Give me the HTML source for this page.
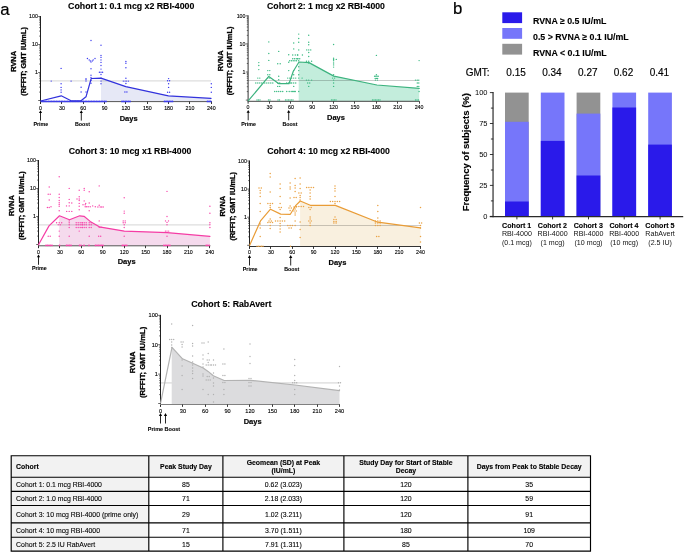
<!DOCTYPE html>
<html lang="en"><head><meta charset="utf-8"><title>Figure</title>
<style>html,body{margin:0;padding:0;background:#fff}svg{display:block}text{font-family:'Liberation Sans', Arial, Helvetica, sans-serif}</style></head><body>
<svg width="685" height="553" viewBox="0 0 685 553">
<rect width="685" height="553" fill="#fff"/>
<text x="0.3" y="15" font-size="16.8" text-anchor="start" fill="#000" stroke="#000" stroke-width="0.2">a</text>
<text x="452.9" y="14" font-size="16.8" text-anchor="start" fill="#000" stroke="#000" stroke-width="0.2">b</text>
<text x="131.2" y="9.0" font-size="8.78" text-anchor="middle" font-weight="bold" fill="#000" stroke="#000" stroke-width="0.12">Cohort 1: 0.1 mcg x2 RBI-4000</text>
<path d="M101.0,78.1 L125.8,86.6 L168.4,95.8 L211.0,98.4 L211.0,101.6 L101.0,101.6 Z" fill="#e6e8f6"/>
<line x1="40.5" y1="80.9" x2="211.0" y2="80.9" stroke="#000" stroke-opacity="0.135" stroke-width="1.4"/>
<line x1="40.5" y1="16.0" x2="40.5" y2="104.0" stroke="#222" stroke-width="1"/>
<line x1="40.0" y1="101.6" x2="211.8" y2="101.6" stroke="#555" stroke-width="1"/>
<path d="M38.2,100.5H40.5M39.2,92.1H40.5M39.2,87.1H40.5M39.2,83.6H40.5M39.2,80.9H40.5M39.2,78.7H40.5M39.2,76.8H40.5M39.2,75.2H40.5M39.2,73.8H40.5M38.2,72.5H40.5M39.2,64.1H40.5M39.2,59.1H40.5M39.2,55.6H40.5M39.2,52.9H40.5M39.2,50.7H40.5M39.2,48.8H40.5M39.2,47.2H40.5M39.2,45.8H40.5M38.2,44.5H40.5M39.2,36.1H40.5M39.2,31.1H40.5M39.2,27.6H40.5M39.2,24.9H40.5M39.2,22.7H40.5M39.2,20.8H40.5M39.2,19.2H40.5M39.2,17.8H40.5M38.2,16.5H40.5" stroke="#222" stroke-width="0.7" fill="none"/>
<text x="37.9" y="18.4" font-size="5.3" text-anchor="end" fill="#000" stroke="#000" stroke-width="0.12">100</text>
<text x="37.9" y="46.4" font-size="5.3" text-anchor="end" fill="#000" stroke="#000" stroke-width="0.12">10</text>
<text x="37.9" y="74.4" font-size="5.3" text-anchor="end" fill="#000" stroke="#000" stroke-width="0.12">1</text>
<text x="40.5" y="109.5" font-size="5.3" text-anchor="middle" fill="#000" stroke="#000" stroke-width="0.12">0</text>
<text x="61.9" y="109.5" font-size="5.3" text-anchor="middle" fill="#000" stroke="#000" stroke-width="0.12">30</text>
<text x="83.2" y="109.5" font-size="5.3" text-anchor="middle" fill="#000" stroke="#000" stroke-width="0.12">60</text>
<text x="104.6" y="109.5" font-size="5.3" text-anchor="middle" fill="#000" stroke="#000" stroke-width="0.12">90</text>
<text x="125.9" y="109.5" font-size="5.3" text-anchor="middle" fill="#000" stroke="#000" stroke-width="0.12">120</text>
<text x="147.3" y="109.5" font-size="5.3" text-anchor="middle" fill="#000" stroke="#000" stroke-width="0.12">150</text>
<text x="168.6" y="109.5" font-size="5.3" text-anchor="middle" fill="#000" stroke="#000" stroke-width="0.12">180</text>
<text x="190.0" y="109.5" font-size="5.3" text-anchor="middle" fill="#000" stroke="#000" stroke-width="0.12">210</text>
<text x="211.3" y="109.5" font-size="5.3" text-anchor="middle" fill="#000" stroke="#000" stroke-width="0.12">240</text>
<path d="M61.5,101.6v2.4M83.5,101.6v2.4M104.5,101.6v2.4M125.5,101.6v2.4M147.5,101.6v2.4M168.5,101.6v2.4M189.5,101.6v2.4M211.5,101.6v2.4" stroke="#222" stroke-width="0.9" fill="none"/>
<g fill="#3c3cf0"><circle cx="42.0" cy="101.4" r="0.95"/><circle cx="43.6" cy="101.4" r="0.95"/><circle cx="45.2" cy="101.4" r="0.95"/><circle cx="46.8" cy="101.4" r="0.95"/><circle cx="48.4" cy="101.4" r="0.95"/><circle cx="50.0" cy="101.4" r="0.95"/><circle cx="51.6" cy="101.4" r="0.95"/><circle cx="53.2" cy="101.4" r="0.95"/><circle cx="54.8" cy="101.4" r="0.95"/><circle cx="56.4" cy="101.4" r="0.95"/><circle cx="58.0" cy="101.4" r="0.95"/><circle cx="59.6" cy="101.4" r="0.95"/><circle cx="61.2" cy="101.4" r="0.95"/><circle cx="62.8" cy="101.4" r="0.95"/><circle cx="64.4" cy="101.4" r="0.95"/><circle cx="66.0" cy="101.4" r="0.95"/><circle cx="67.6" cy="101.4" r="0.95"/><circle cx="69.2" cy="101.4" r="0.95"/><circle cx="70.8" cy="101.4" r="0.95"/><circle cx="72.4" cy="101.4" r="0.95"/><circle cx="74.0" cy="101.4" r="0.95"/><circle cx="75.6" cy="101.4" r="0.95"/><circle cx="77.2" cy="101.4" r="0.95"/><circle cx="78.8" cy="101.4" r="0.95"/><circle cx="80.4" cy="101.4" r="0.95"/><circle cx="82.0" cy="101.4" r="0.95"/><circle cx="83.6" cy="101.4" r="0.95"/><circle cx="85.2" cy="101.4" r="0.95"/><circle cx="86.8" cy="101.4" r="0.95"/><circle cx="88.4" cy="101.4" r="0.95"/><circle cx="90.0" cy="101.4" r="0.95"/><circle cx="91.6" cy="101.4" r="0.95"/><circle cx="93.2" cy="101.4" r="0.95"/><circle cx="94.8" cy="101.4" r="0.95"/><circle cx="96.4" cy="101.4" r="0.95"/><circle cx="98.0" cy="101.4" r="0.95"/><circle cx="99.6" cy="101.4" r="0.95"/><circle cx="101.2" cy="101.4" r="0.95"/><circle cx="102.8" cy="101.4" r="0.95"/><circle cx="104.4" cy="101.4" r="0.95"/><circle cx="106.0" cy="101.4" r="0.95"/><circle cx="122.0" cy="101.4" r="0.95"/><circle cx="123.6" cy="101.4" r="0.95"/><circle cx="125.2" cy="101.4" r="0.95"/><circle cx="126.8" cy="101.4" r="0.95"/><circle cx="128.4" cy="101.4" r="0.95"/><circle cx="130.0" cy="101.4" r="0.95"/><circle cx="164.5" cy="101.4" r="0.95"/><circle cx="166.1" cy="101.4" r="0.95"/><circle cx="167.7" cy="101.4" r="0.95"/><circle cx="169.3" cy="101.4" r="0.95"/><circle cx="170.9" cy="101.4" r="0.95"/><circle cx="172.5" cy="101.4" r="0.95"/><circle cx="207.5" cy="101.4" r="0.95"/><circle cx="209.1" cy="101.4" r="0.95"/><circle cx="210.7" cy="101.4" r="0.95"/></g>
<g fill="#3c3cf0"><circle cx="51.2" cy="81.1" r="0.7"/><circle cx="61.1" cy="68.4" r="0.7"/><circle cx="61.1" cy="83.7" r="0.7"/><circle cx="61.1" cy="87.4" r="0.7"/><circle cx="61.1" cy="89.9" r="0.7"/><circle cx="61.1" cy="92.3" r="0.7"/><circle cx="71.1" cy="81.1" r="0.7"/><circle cx="81.1" cy="87.2" r="0.7"/><circle cx="81.1" cy="92.0" r="0.7"/><circle cx="86.0" cy="78.6" r="0.7"/><circle cx="86.0" cy="79.7" r="0.7"/><circle cx="86.0" cy="81.1" r="0.7"/><circle cx="86.0" cy="92.0" r="0.7"/><circle cx="91.0" cy="40.5" r="0.7"/><circle cx="87.4" cy="58.5" r="0.7"/><circle cx="95.0" cy="58.5" r="0.7"/><circle cx="89.2" cy="59.9" r="0.7"/><circle cx="93.2" cy="59.9" r="0.7"/><circle cx="90.3" cy="61.0" r="0.7"/><circle cx="92.2" cy="61.0" r="0.7"/><circle cx="91.0" cy="62.1" r="0.7"/><circle cx="91.0" cy="68.7" r="0.7"/><circle cx="91.0" cy="75.3" r="0.7"/><circle cx="91.0" cy="77.4" r="0.7"/><circle cx="91.0" cy="80.4" r="0.7"/><circle cx="91.0" cy="83.3" r="0.7"/><circle cx="101.0" cy="45.3" r="0.7"/><circle cx="101.0" cy="55.5" r="0.7"/><circle cx="101.0" cy="57.4" r="0.7"/><circle cx="101.0" cy="59.9" r="0.7"/><circle cx="101.0" cy="62.4" r="0.7"/><circle cx="101.0" cy="65.5" r="0.7"/><circle cx="101.0" cy="69.1" r="0.7"/><circle cx="99.4" cy="72.3" r="0.7"/><circle cx="101.0" cy="72.3" r="0.7"/><circle cx="102.6" cy="72.3" r="0.7"/><circle cx="101.0" cy="74.5" r="0.7"/><circle cx="101.0" cy="78.2" r="0.7"/><circle cx="101.0" cy="81.1" r="0.7"/><circle cx="101.0" cy="83.7" r="0.7"/><circle cx="125.9" cy="61.4" r="0.7"/><circle cx="125.9" cy="63.3" r="0.7"/><circle cx="125.9" cy="67.7" r="0.7"/><circle cx="125.9" cy="78.2" r="0.7"/><circle cx="123.3" cy="81.1" r="0.7"/><circle cx="125.1" cy="81.1" r="0.7"/><circle cx="126.7" cy="81.1" r="0.7"/><circle cx="128.5" cy="81.1" r="0.7"/><circle cx="125.9" cy="83.5" r="0.7"/><circle cx="124.9" cy="92.0" r="0.7"/><circle cx="126.9" cy="92.0" r="0.7"/><circle cx="168.6" cy="78.6" r="0.7"/><circle cx="167.6" cy="80.8" r="0.7"/><circle cx="169.6" cy="80.8" r="0.7"/><circle cx="168.6" cy="83.7" r="0.7"/><circle cx="168.6" cy="87.4" r="0.7"/><circle cx="167.6" cy="92.3" r="0.7"/><circle cx="169.6" cy="92.3" r="0.7"/><circle cx="211.3" cy="83.7" r="0.7"/><circle cx="211.3" cy="87.4" r="0.7"/><circle cx="211.3" cy="92.3" r="0.7"/></g>
<polyline points="40.6,101.0 61.2,95.8 71.1,100.8 81.0,100.8 86.0,96.8 91.2,78.5 101.0,78.1 125.8,86.6 168.4,95.8 211.0,98.4" fill="none" stroke="#3232dc" stroke-width="1.2" stroke-linejoin="round" stroke-linecap="round"/>
<text x="16.2" y="61.4" font-size="7.4" text-anchor="middle" font-weight="bold" fill="#000" transform="rotate(-90 16.2 61.4)" stroke="#000" stroke-width="0.3">RVNA</text>
<text x="26.1" y="61.4" font-size="7.4" text-anchor="middle" font-weight="bold" fill="#000" transform="rotate(-90 26.1 61.4)" stroke="#000" stroke-width="0.3">(RFFIT; GMT IU/mL)</text>
<text x="128.6" y="120.60000000000001" font-size="7.5" text-anchor="middle" font-weight="bold" fill="#000" stroke="#000" stroke-width="0.15">Days</text>
<path d="M40.5,120.6V112.1" stroke="#000" stroke-width="0.85" fill="none"/><path d="M40.5,110.19999999999999l-1.6,2.9h3.2z" fill="#000"/>
<text x="40.8" y="126.2" font-size="5.3" text-anchor="middle" font-weight="bold" fill="#000" stroke="#000" stroke-width="0.08">Prime</text>
<path d="M81.3,120.6V112.1" stroke="#000" stroke-width="0.85" fill="none"/><path d="M81.3,110.19999999999999l-1.6,2.9h3.2z" fill="#000"/>
<text x="82.5" y="126.2" font-size="5.3" text-anchor="middle" font-weight="bold" fill="#000" stroke="#000" stroke-width="0.08">Boost</text>
<text x="326" y="9.0" font-size="8.7" text-anchor="middle" font-weight="bold" fill="#000" stroke="#000" stroke-width="0.12">Cohort 2: 1 mcg x2 RBI-4000</text>
<path d="M298.7,62.5 L299.0,62.0 L309.0,62.6 L333.8,76.1 L376.9,85.0 L419.2,88.4 L419.2,101.3 L298.7,101.3 Z" fill="#c3eddc"/>
<line x1="248.1" y1="80.5" x2="419.2" y2="80.5" stroke="#000" stroke-opacity="0.2" stroke-width="1"/>
<line x1="248.1" y1="15.3" x2="248.1" y2="103.7" stroke="#333" stroke-width="1"/>
<line x1="247.6" y1="101.3" x2="419.6" y2="101.3" stroke="#444" stroke-width="1"/>
<path d="M245.8,100.1H248.1M246.8,91.6H248.1M246.8,86.7H248.1M246.8,83.2H248.1M246.8,80.5H248.1M246.8,78.2H248.1M246.8,76.4H248.1M246.8,74.7H248.1M246.8,73.3H248.1M245.8,72.0H248.1M246.8,63.5H248.1M246.8,58.6H248.1M246.8,55.1H248.1M246.8,52.4H248.1M246.8,50.1H248.1M246.8,48.3H248.1M246.8,46.6H248.1M246.8,45.2H248.1M245.8,43.9H248.1M246.8,35.4H248.1M246.8,30.5H248.1M246.8,27.0H248.1M246.8,24.3H248.1M246.8,22.0H248.1M246.8,20.2H248.1M246.8,18.5H248.1M246.8,17.1H248.1M245.8,15.8H248.1" stroke="#333" stroke-width="0.7" fill="none"/>
<text x="245.5" y="17.7" font-size="5.3" text-anchor="end" fill="#000" stroke="#000" stroke-width="0.12">100</text>
<text x="245.5" y="45.8" font-size="5.3" text-anchor="end" fill="#000" stroke="#000" stroke-width="0.12">10</text>
<text x="245.5" y="73.9" font-size="5.3" text-anchor="end" fill="#000" stroke="#000" stroke-width="0.12">1</text>
<text x="248.1" y="109.2" font-size="5.3" text-anchor="middle" fill="#000" stroke="#000" stroke-width="0.12">0</text>
<text x="269.5" y="109.2" font-size="5.3" text-anchor="middle" fill="#000" stroke="#000" stroke-width="0.12">30</text>
<text x="290.9" y="109.2" font-size="5.3" text-anchor="middle" fill="#000" stroke="#000" stroke-width="0.12">60</text>
<text x="312.2" y="109.2" font-size="5.3" text-anchor="middle" fill="#000" stroke="#000" stroke-width="0.12">90</text>
<text x="333.6" y="109.2" font-size="5.3" text-anchor="middle" fill="#000" stroke="#000" stroke-width="0.12">120</text>
<text x="355.0" y="109.2" font-size="5.3" text-anchor="middle" fill="#000" stroke="#000" stroke-width="0.12">150</text>
<text x="376.4" y="109.2" font-size="5.3" text-anchor="middle" fill="#000" stroke="#000" stroke-width="0.12">180</text>
<text x="397.7" y="109.2" font-size="5.3" text-anchor="middle" fill="#000" stroke="#000" stroke-width="0.12">210</text>
<text x="419.1" y="109.2" font-size="5.3" text-anchor="middle" fill="#000" stroke="#000" stroke-width="0.12">240</text>
<path d="M269.5,101.3v2.4M290.5,101.3v2.4M312.5,101.3v2.4M333.5,101.3v2.4M354.5,101.3v2.4M376.5,101.3v2.4M397.5,101.3v2.4M419.5,101.3v2.4" stroke="#333" stroke-width="0.9" fill="none"/>
<g fill="#3dbb84"><circle cx="257.0" cy="100.0" r="0.7"/><circle cx="258.5" cy="100.0" r="0.7"/><circle cx="260.0" cy="100.0" r="0.7"/><circle cx="268.5" cy="100.0" r="0.7"/><circle cx="270.0" cy="100.0" r="0.7"/><circle cx="278.0" cy="100.0" r="0.7"/><circle cx="279.5" cy="100.0" r="0.7"/><circle cx="285.5" cy="100.0" r="0.7"/><circle cx="287.0" cy="100.0" r="0.7"/><circle cx="288.5" cy="100.0" r="0.7"/><circle cx="290.0" cy="100.0" r="0.7"/><circle cx="291.5" cy="100.0" r="0.7"/><circle cx="293.0" cy="100.0" r="0.7"/><circle cx="331.5" cy="100.0" r="0.7"/><circle cx="333.0" cy="100.0" r="0.7"/><circle cx="334.5" cy="100.0" r="0.7"/><circle cx="336.0" cy="100.0" r="0.7"/><circle cx="372.5" cy="100.0" r="0.7"/><circle cx="374.0" cy="100.0" r="0.7"/><circle cx="375.5" cy="100.0" r="0.7"/><circle cx="377.0" cy="100.0" r="0.7"/><circle cx="378.5" cy="100.0" r="0.7"/><circle cx="380.0" cy="100.0" r="0.7"/><circle cx="415.5" cy="100.0" r="0.7"/><circle cx="417.0" cy="100.0" r="0.7"/><circle cx="418.5" cy="100.0" r="0.7"/></g>
<g fill="#3dbb84"><circle cx="258.8" cy="62.6" r="0.72"/><circle cx="258.8" cy="65.5" r="0.72"/><circle cx="258.8" cy="69.6" r="0.72"/><circle cx="257.8" cy="78.1" r="0.72"/><circle cx="259.8" cy="78.1" r="0.72"/><circle cx="255.8" cy="83.0" r="0.72"/><circle cx="257.8" cy="83.0" r="0.72"/><circle cx="259.8" cy="83.0" r="0.72"/><circle cx="261.8" cy="83.0" r="0.72"/><circle cx="268.8" cy="41.9" r="0.72"/><circle cx="268.8" cy="53.5" r="0.72"/><circle cx="268.8" cy="60.4" r="0.72"/><circle cx="267.8" cy="70.6" r="0.72"/><circle cx="269.8" cy="70.6" r="0.72"/><circle cx="267.8" cy="74.7" r="0.72"/><circle cx="269.8" cy="74.7" r="0.72"/><circle cx="267.8" cy="78.1" r="0.72"/><circle cx="269.8" cy="78.1" r="0.72"/><circle cx="264.8" cy="83.0" r="0.72"/><circle cx="266.8" cy="83.0" r="0.72"/><circle cx="268.8" cy="83.0" r="0.72"/><circle cx="270.8" cy="83.0" r="0.72"/><circle cx="272.8" cy="83.0" r="0.72"/><circle cx="278.7" cy="51.4" r="0.72"/><circle cx="277.7" cy="63.8" r="0.72"/><circle cx="280.2" cy="63.8" r="0.72"/><circle cx="278.7" cy="76.2" r="0.72"/><circle cx="278.7" cy="79.8" r="0.72"/><circle cx="277.7" cy="83.0" r="0.72"/><circle cx="279.7" cy="83.0" r="0.72"/><circle cx="277.7" cy="86.4" r="0.72"/><circle cx="279.7" cy="86.4" r="0.72"/><circle cx="274.7" cy="91.5" r="0.72"/><circle cx="276.7" cy="91.5" r="0.72"/><circle cx="278.7" cy="91.5" r="0.72"/><circle cx="280.7" cy="91.5" r="0.72"/><circle cx="282.7" cy="91.5" r="0.72"/><circle cx="288.7" cy="54.7" r="0.72"/><circle cx="288.7" cy="62.3" r="0.72"/><circle cx="288.7" cy="70.6" r="0.72"/><circle cx="287.7" cy="78.1" r="0.72"/><circle cx="289.7" cy="78.1" r="0.72"/><circle cx="286.7" cy="83.0" r="0.72"/><circle cx="288.7" cy="83.0" r="0.72"/><circle cx="290.7" cy="83.0" r="0.72"/><circle cx="286.7" cy="91.5" r="0.72"/><circle cx="289.2" cy="91.5" r="0.72"/><circle cx="291.2" cy="91.5" r="0.72"/><circle cx="293.2" cy="91.5" r="0.72"/><circle cx="295.2" cy="91.5" r="0.72"/><circle cx="293.7" cy="43.0" r="0.72"/><circle cx="293.7" cy="48.9" r="0.72"/><circle cx="292.7" cy="55.0" r="0.72"/><circle cx="295.3" cy="55.0" r="0.72"/><circle cx="297.5" cy="55.0" r="0.72"/><circle cx="292.7" cy="58.7" r="0.72"/><circle cx="294.5" cy="58.7" r="0.72"/><circle cx="296.3" cy="58.7" r="0.72"/><circle cx="297.9" cy="58.7" r="0.72"/><circle cx="289.7" cy="60.8" r="0.72"/><circle cx="291.5" cy="60.8" r="0.72"/><circle cx="293.2" cy="60.8" r="0.72"/><circle cx="294.9" cy="60.8" r="0.72"/><circle cx="296.5" cy="60.8" r="0.72"/><circle cx="293.7" cy="70.6" r="0.72"/><circle cx="293.7" cy="74.7" r="0.72"/><circle cx="291.7" cy="78.1" r="0.72"/><circle cx="293.7" cy="78.1" r="0.72"/><circle cx="295.7" cy="78.1" r="0.72"/><circle cx="291.7" cy="83.0" r="0.72"/><circle cx="293.7" cy="83.0" r="0.72"/><circle cx="295.7" cy="83.0" r="0.72"/><circle cx="293.7" cy="86.4" r="0.72"/><circle cx="292.7" cy="91.5" r="0.72"/><circle cx="294.7" cy="91.5" r="0.72"/><circle cx="298.7" cy="34.1" r="0.72"/><circle cx="298.7" cy="38.5" r="0.72"/><circle cx="298.7" cy="42.3" r="0.72"/><circle cx="298.7" cy="49.9" r="0.72"/><circle cx="297.7" cy="55.0" r="0.72"/><circle cx="302.4" cy="55.0" r="0.72"/><circle cx="297.7" cy="58.7" r="0.72"/><circle cx="299.7" cy="58.7" r="0.72"/><circle cx="298.7" cy="60.8" r="0.72"/><circle cx="298.7" cy="66.7" r="0.72"/><circle cx="298.7" cy="70.6" r="0.72"/><circle cx="298.7" cy="74.7" r="0.72"/><circle cx="298.7" cy="78.1" r="0.72"/><circle cx="302.1" cy="78.1" r="0.72"/><circle cx="298.7" cy="91.5" r="0.72"/><circle cx="308.7" cy="35.3" r="0.72"/><circle cx="308.7" cy="42.3" r="0.72"/><circle cx="308.7" cy="44.8" r="0.72"/><circle cx="306.7" cy="49.9" r="0.72"/><circle cx="308.7" cy="49.9" r="0.72"/><circle cx="310.7" cy="49.9" r="0.72"/><circle cx="308.7" cy="52.5" r="0.72"/><circle cx="308.7" cy="56.5" r="0.72"/><circle cx="306.5" cy="61.3" r="0.72"/><circle cx="308.7" cy="61.3" r="0.72"/><circle cx="311.6" cy="61.3" r="0.72"/><circle cx="308.7" cy="63.0" r="0.72"/><circle cx="306.5" cy="80.1" r="0.72"/><circle cx="308.7" cy="80.1" r="0.72"/><circle cx="311.6" cy="80.1" r="0.72"/><circle cx="307.7" cy="83.0" r="0.72"/><circle cx="309.7" cy="83.0" r="0.72"/><circle cx="308.7" cy="86.4" r="0.72"/><circle cx="333.6" cy="44.5" r="0.72"/><circle cx="333.6" cy="58.2" r="0.72"/><circle cx="333.6" cy="59.4" r="0.72"/><circle cx="336.3" cy="59.4" r="0.72"/><circle cx="333.6" cy="60.8" r="0.72"/><circle cx="333.6" cy="63.0" r="0.72"/><circle cx="333.6" cy="64.9" r="0.72"/><circle cx="333.6" cy="67.1" r="0.72"/><circle cx="333.6" cy="74.7" r="0.72"/><circle cx="332.6" cy="78.1" r="0.72"/><circle cx="334.6" cy="78.1" r="0.72"/><circle cx="333.6" cy="80.1" r="0.72"/><circle cx="333.6" cy="83.0" r="0.72"/><circle cx="333.6" cy="86.4" r="0.72"/><circle cx="376.4" cy="55.4" r="0.72"/><circle cx="376.4" cy="74.7" r="0.72"/><circle cx="374.6" cy="76.2" r="0.72"/><circle cx="375.8" cy="76.2" r="0.72"/><circle cx="377.0" cy="76.2" r="0.72"/><circle cx="378.2" cy="76.2" r="0.72"/><circle cx="375.2" cy="78.4" r="0.72"/><circle cx="376.4" cy="78.4" r="0.72"/><circle cx="377.6" cy="78.4" r="0.72"/><circle cx="375.4" cy="80.1" r="0.72"/><circle cx="377.4" cy="80.1" r="0.72"/><circle cx="419.1" cy="60.6" r="0.72"/><circle cx="415.5" cy="80.1" r="0.72"/><circle cx="417.3" cy="80.1" r="0.72"/><circle cx="418.8" cy="80.1" r="0.72"/><circle cx="417.3" cy="83.0" r="0.72"/><circle cx="418.8" cy="83.0" r="0.72"/><circle cx="417.3" cy="86.4" r="0.72"/><circle cx="418.8" cy="86.4" r="0.72"/><circle cx="419.1" cy="91.5" r="0.72"/></g>
<polyline points="248.4,100.6 268.8,76.4 278.9,83.7 289.0,83.7 293.3,71.2 299.0,62.0 309.0,62.6 333.8,76.1 376.9,85.0 419.2,88.4" fill="none" stroke="#3db37f" stroke-width="1.2" stroke-linejoin="round" stroke-linecap="round"/>
<text x="222.6" y="60.9" font-size="7.4" text-anchor="middle" font-weight="bold" fill="#000" transform="rotate(-90 222.6 60.9)" stroke="#000" stroke-width="0.3">RVNA</text>
<text x="232.5" y="60.9" font-size="7.4" text-anchor="middle" font-weight="bold" fill="#000" transform="rotate(-90 232.5 60.9)" stroke="#000" stroke-width="0.3">(RFFIT; GMT IU/mL)</text>
<text x="336" y="119.7" font-size="7.5" text-anchor="middle" font-weight="bold" fill="#000" stroke="#000" stroke-width="0.15">Days</text>
<path d="M248.2,120.3V111.8" stroke="#000" stroke-width="0.85" fill="none"/><path d="M248.2,109.89999999999999l-1.6,2.9h3.2z" fill="#000"/>
<text x="248.6" y="125.9" font-size="5.3" text-anchor="middle" font-weight="bold" fill="#000" stroke="#000" stroke-width="0.08">Prime</text>
<path d="M288.7,120.3V111.8" stroke="#000" stroke-width="0.85" fill="none"/><path d="M288.7,109.89999999999999l-1.6,2.9h3.2z" fill="#000"/>
<text x="290" y="125.9" font-size="5.3" text-anchor="middle" font-weight="bold" fill="#000" stroke="#000" stroke-width="0.08">Boost</text>
<text x="130" y="153.7" font-size="8.7" text-anchor="middle" font-weight="bold" fill="#000" stroke="#000" stroke-width="0.12">Cohort 3: 10 mcg x1 RBI-4000</text>
<path d="M59.2,216.1 L59.5,215.8 L69.5,219.8 L79.7,215.8 L84.0,216.3 L90.2,221.4 L99.3,226.8 L124.3,231.1 L167.2,232.6 L209.9,236.4 L209.9,245.8 L59.2,245.8 Z" fill="#f5daed"/>
<line x1="38.5" y1="224.9" x2="209.9" y2="224.9" stroke="#000" stroke-opacity="0.135" stroke-width="1.4"/>
<line x1="38.5" y1="160.0" x2="38.5" y2="248.2" stroke="#222" stroke-width="1"/>
<line x1="38.0" y1="245.8" x2="210.4" y2="245.8" stroke="#555" stroke-width="1"/>
<path d="M36.2,244.5H38.5M37.2,236.1H38.5M37.2,231.1H38.5M37.2,227.6H38.5M37.2,224.9H38.5M37.2,222.7H38.5M37.2,220.8H38.5M37.2,219.2H38.5M37.2,217.8H38.5M36.2,216.5H38.5M37.2,208.1H38.5M37.2,203.1H38.5M37.2,199.6H38.5M37.2,196.9H38.5M37.2,194.7H38.5M37.2,192.8H38.5M37.2,191.2H38.5M37.2,189.8H38.5M36.2,188.5H38.5M37.2,180.1H38.5M37.2,175.1H38.5M37.2,171.6H38.5M37.2,168.9H38.5M37.2,166.7H38.5M37.2,164.8H38.5M37.2,163.2H38.5M37.2,161.8H38.5M36.2,160.5H38.5" stroke="#222" stroke-width="0.7" fill="none"/>
<text x="35.9" y="162.4" font-size="5.3" text-anchor="end" fill="#000" stroke="#000" stroke-width="0.12">100</text>
<text x="35.9" y="190.4" font-size="5.3" text-anchor="end" fill="#000" stroke="#000" stroke-width="0.12">10</text>
<text x="35.9" y="218.4" font-size="5.3" text-anchor="end" fill="#000" stroke="#000" stroke-width="0.12">1</text>
<text x="38.5" y="253.7" font-size="5.3" text-anchor="middle" fill="#000" stroke="#000" stroke-width="0.12">0</text>
<text x="59.9" y="253.7" font-size="5.3" text-anchor="middle" fill="#000" stroke="#000" stroke-width="0.12">30</text>
<text x="81.3" y="253.7" font-size="5.3" text-anchor="middle" fill="#000" stroke="#000" stroke-width="0.12">60</text>
<text x="102.8" y="253.7" font-size="5.3" text-anchor="middle" fill="#000" stroke="#000" stroke-width="0.12">90</text>
<text x="124.2" y="253.7" font-size="5.3" text-anchor="middle" fill="#000" stroke="#000" stroke-width="0.12">120</text>
<text x="145.6" y="253.7" font-size="5.3" text-anchor="middle" fill="#000" stroke="#000" stroke-width="0.12">150</text>
<text x="167.0" y="253.7" font-size="5.3" text-anchor="middle" fill="#000" stroke="#000" stroke-width="0.12">180</text>
<text x="188.4" y="253.7" font-size="5.3" text-anchor="middle" fill="#000" stroke="#000" stroke-width="0.12">210</text>
<text x="209.9" y="253.7" font-size="5.3" text-anchor="middle" fill="#000" stroke="#000" stroke-width="0.12">240</text>
<path d="M59.5,245.8v2.4M81.5,245.8v2.4M102.5,245.8v2.4M124.5,245.8v2.4M145.5,245.8v2.4M167.5,245.8v2.4M188.5,245.8v2.4M209.5,245.8v2.4" stroke="#222" stroke-width="0.9" fill="none"/>
<g fill="#f845ab"><circle cx="46.0" cy="245.3" r="0.9"/><circle cx="47.5" cy="245.3" r="0.9"/><circle cx="49.0" cy="245.3" r="0.9"/><circle cx="50.5" cy="245.3" r="0.9"/><circle cx="52.0" cy="245.3" r="0.9"/><circle cx="59.5" cy="245.3" r="0.9"/><circle cx="66.5" cy="245.3" r="0.9"/><circle cx="68.0" cy="245.3" r="0.9"/><circle cx="69.5" cy="245.3" r="0.9"/><circle cx="71.0" cy="245.3" r="0.9"/><circle cx="79.5" cy="245.3" r="0.9"/><circle cx="81.0" cy="245.3" r="0.9"/><circle cx="84.0" cy="245.3" r="0.9"/><circle cx="89.0" cy="245.3" r="0.9"/><circle cx="95.5" cy="245.3" r="0.9"/><circle cx="97.0" cy="245.3" r="0.9"/><circle cx="98.5" cy="245.3" r="0.9"/><circle cx="100.0" cy="245.3" r="0.9"/><circle cx="101.5" cy="245.3" r="0.9"/><circle cx="103.0" cy="245.3" r="0.9"/><circle cx="122.3" cy="245.3" r="0.9"/><circle cx="123.8" cy="245.3" r="0.9"/><circle cx="125.3" cy="245.3" r="0.9"/><circle cx="126.8" cy="245.3" r="0.9"/><circle cx="163.9" cy="245.3" r="0.9"/><circle cx="165.4" cy="245.3" r="0.9"/><circle cx="166.9" cy="245.3" r="0.9"/><circle cx="168.4" cy="245.3" r="0.9"/><circle cx="169.9" cy="245.3" r="0.9"/><circle cx="206.2" cy="245.3" r="0.9"/><circle cx="207.7" cy="245.3" r="0.9"/><circle cx="209.2" cy="245.3" r="0.9"/></g>
<g fill="#f845ab"><circle cx="49.2" cy="187.0" r="0.7"/><circle cx="48.2" cy="194.2" r="0.7"/><circle cx="50.2" cy="194.2" r="0.7"/><circle cx="49.2" cy="200.0" r="0.7"/><circle cx="47.4" cy="207.5" r="0.7"/><circle cx="49.2" cy="207.5" r="0.7"/><circle cx="51.0" cy="206.8" r="0.7"/><circle cx="48.2" cy="236.2" r="0.7"/><circle cx="50.2" cy="236.2" r="0.7"/><circle cx="59.2" cy="176.7" r="0.7"/><circle cx="59.2" cy="194.3" r="0.7"/><circle cx="59.2" cy="197.5" r="0.7"/><circle cx="59.2" cy="200.5" r="0.7"/><circle cx="59.2" cy="202.7" r="0.7"/><circle cx="59.2" cy="204.4" r="0.7"/><circle cx="59.2" cy="206.3" r="0.7"/><circle cx="59.2" cy="210.7" r="0.7"/><circle cx="56.6" cy="222.8" r="0.7"/><circle cx="59.2" cy="222.8" r="0.7"/><circle cx="61.7" cy="222.8" r="0.7"/><circle cx="58.2" cy="224.8" r="0.7"/><circle cx="60.2" cy="224.8" r="0.7"/><circle cx="59.2" cy="231.1" r="0.7"/><circle cx="59.2" cy="236.2" r="0.7"/><circle cx="69.2" cy="188.4" r="0.7"/><circle cx="69.2" cy="199.4" r="0.7"/><circle cx="69.2" cy="202.7" r="0.7"/><circle cx="66.5" cy="205.9" r="0.7"/><circle cx="69.2" cy="205.9" r="0.7"/><circle cx="71.8" cy="203.0" r="0.7"/><circle cx="66.7" cy="211.4" r="0.7"/><circle cx="69.2" cy="211.4" r="0.7"/><circle cx="71.8" cy="211.4" r="0.7"/><circle cx="69.2" cy="220.9" r="0.7"/><circle cx="69.2" cy="222.8" r="0.7"/><circle cx="69.2" cy="224.8" r="0.7"/><circle cx="69.2" cy="227.5" r="0.7"/><circle cx="69.2" cy="236.2" r="0.7"/><circle cx="79.2" cy="190.2" r="0.7"/><circle cx="79.2" cy="196.8" r="0.7"/><circle cx="77.0" cy="199.0" r="0.7"/><circle cx="79.2" cy="199.0" r="0.7"/><circle cx="79.2" cy="200.5" r="0.7"/><circle cx="79.2" cy="203.4" r="0.7"/><circle cx="79.2" cy="206.3" r="0.7"/><circle cx="79.2" cy="209.7" r="0.7"/><circle cx="76.2" cy="222.8" r="0.7"/><circle cx="78.2" cy="222.8" r="0.7"/><circle cx="80.2" cy="222.8" r="0.7"/><circle cx="82.2" cy="222.8" r="0.7"/><circle cx="76.2" cy="224.8" r="0.7"/><circle cx="78.2" cy="224.8" r="0.7"/><circle cx="80.2" cy="224.8" r="0.7"/><circle cx="82.2" cy="224.8" r="0.7"/><circle cx="76.2" cy="227.5" r="0.7"/><circle cx="78.2" cy="227.5" r="0.7"/><circle cx="80.2" cy="227.5" r="0.7"/><circle cx="82.2" cy="227.5" r="0.7"/><circle cx="79.2" cy="231.1" r="0.7"/><circle cx="84.2" cy="188.4" r="0.7"/><circle cx="84.2" cy="190.2" r="0.7"/><circle cx="84.2" cy="200.9" r="0.7"/><circle cx="85.7" cy="203.4" r="0.7"/><circle cx="83.0" cy="204.8" r="0.7"/><circle cx="85.2" cy="204.8" r="0.7"/><circle cx="85.2" cy="206.7" r="0.7"/><circle cx="86.7" cy="206.7" r="0.7"/><circle cx="88.2" cy="206.7" r="0.7"/><circle cx="82.2" cy="222.8" r="0.7"/><circle cx="84.2" cy="222.8" r="0.7"/><circle cx="86.2" cy="222.8" r="0.7"/><circle cx="82.2" cy="224.8" r="0.7"/><circle cx="84.2" cy="224.8" r="0.7"/><circle cx="86.2" cy="224.8" r="0.7"/><circle cx="82.2" cy="227.5" r="0.7"/><circle cx="84.2" cy="227.5" r="0.7"/><circle cx="86.2" cy="227.5" r="0.7"/><circle cx="89.2" cy="191.7" r="0.7"/><circle cx="89.2" cy="203.0" r="0.7"/><circle cx="90.2" cy="206.7" r="0.7"/><circle cx="95.3" cy="206.7" r="0.7"/><circle cx="92.7" cy="205.9" r="0.7"/><circle cx="89.2" cy="210.7" r="0.7"/><circle cx="89.2" cy="222.8" r="0.7"/><circle cx="91.2" cy="222.8" r="0.7"/><circle cx="89.2" cy="224.8" r="0.7"/><circle cx="91.2" cy="224.8" r="0.7"/><circle cx="89.2" cy="227.5" r="0.7"/><circle cx="91.2" cy="227.5" r="0.7"/><circle cx="89.2" cy="236.2" r="0.7"/><circle cx="99.2" cy="185.9" r="0.7"/><circle cx="99.2" cy="205.3" r="0.7"/><circle cx="97.9" cy="207.0" r="0.7"/><circle cx="100.2" cy="207.0" r="0.7"/><circle cx="101.7" cy="207.0" r="0.7"/><circle cx="103.2" cy="207.0" r="0.7"/><circle cx="99.2" cy="220.9" r="0.7"/><circle cx="99.2" cy="227.2" r="0.7"/><circle cx="101.0" cy="227.2" r="0.7"/><circle cx="98.7" cy="236.2" r="0.7"/><circle cx="100.7" cy="236.2" r="0.7"/><circle cx="124.2" cy="197.8" r="0.7"/><circle cx="124.2" cy="211.1" r="0.7"/><circle cx="124.2" cy="213.3" r="0.7"/><circle cx="123.2" cy="220.9" r="0.7"/><circle cx="125.2" cy="220.9" r="0.7"/><circle cx="123.2" cy="222.8" r="0.7"/><circle cx="125.2" cy="222.8" r="0.7"/><circle cx="124.2" cy="224.8" r="0.7"/><circle cx="124.2" cy="227.5" r="0.7"/><circle cx="124.2" cy="236.2" r="0.7"/><circle cx="167.0" cy="191.4" r="0.7"/><circle cx="167.0" cy="216.5" r="0.7"/><circle cx="165.5" cy="220.9" r="0.7"/><circle cx="168.5" cy="220.9" r="0.7"/><circle cx="167.0" cy="222.4" r="0.7"/><circle cx="167.0" cy="224.8" r="0.7"/><circle cx="165.4" cy="231.1" r="0.7"/><circle cx="167.0" cy="231.1" r="0.7"/><circle cx="168.7" cy="231.1" r="0.7"/><circle cx="167.0" cy="236.2" r="0.7"/><circle cx="209.9" cy="206.3" r="0.7"/><circle cx="209.9" cy="213.3" r="0.7"/><circle cx="209.9" cy="222.8" r="0.7"/><circle cx="209.9" cy="224.8" r="0.7"/><circle cx="209.9" cy="227.5" r="0.7"/></g>
<polyline points="38.5,244.8 49.0,225.9 59.5,215.8 69.5,219.8 79.7,215.8 84.0,216.3 90.2,221.4 99.3,226.8 124.3,231.1 167.2,232.6 209.9,236.4" fill="none" stroke="#f53da5" stroke-width="1.2" stroke-linejoin="round" stroke-linecap="round"/>
<text x="14.1" y="205.6" font-size="7.4" text-anchor="middle" font-weight="bold" fill="#000" transform="rotate(-90 14.1 205.6)" stroke="#000" stroke-width="0.3">RVNA</text>
<text x="24.0" y="205.6" font-size="7.4" text-anchor="middle" font-weight="bold" fill="#000" transform="rotate(-90 24.0 205.6)" stroke="#000" stroke-width="0.3">(RFFIT; GMT IU/mL)</text>
<text x="126.6" y="264.4" font-size="7.5" text-anchor="middle" font-weight="bold" fill="#000" stroke="#000" stroke-width="0.15">Days</text>
<path d="M38.5,264.8V256.3" stroke="#000" stroke-width="0.85" fill="none"/><path d="M38.5,254.4l-1.6,2.9h3.2z" fill="#000"/>
<text x="39.3" y="270.4" font-size="5.3" text-anchor="middle" font-weight="bold" fill="#000" stroke="#000" stroke-width="0.08">Prime</text>
<text x="328.5" y="154" font-size="8.7" text-anchor="middle" font-weight="bold" fill="#000" stroke="#000" stroke-width="0.12">Cohort 4: 10 mcg x2 RBI-4000</text>
<path d="M300.1,201.2 L300.3,201.0 L310.3,205.3 L335.3,205.4 L377.9,222.2 L420.4,227.9 L420.4,246.5 L300.1,246.5 Z" fill="#f9f0df"/>
<line x1="249.5" y1="225.5" x2="420.4" y2="225.5" stroke="#000" stroke-opacity="0.2" stroke-width="1"/>
<line x1="249.5" y1="160.5" x2="249.5" y2="248.9" stroke="#222" stroke-width="1"/>
<line x1="249.0" y1="246.5" x2="421.0" y2="246.5" stroke="#333" stroke-width="1"/>
<path d="M247.2,245.3H249.5M248.2,236.8H249.5M248.2,231.9H249.5M248.2,228.4H249.5M248.2,225.7H249.5M248.2,223.4H249.5M248.2,221.6H249.5M248.2,219.9H249.5M248.2,218.5H249.5M247.2,217.2H249.5M248.2,208.7H249.5M248.2,203.8H249.5M248.2,200.3H249.5M248.2,197.6H249.5M248.2,195.3H249.5M248.2,193.5H249.5M248.2,191.8H249.5M248.2,190.4H249.5M247.2,189.1H249.5M248.2,180.6H249.5M248.2,175.7H249.5M248.2,172.2H249.5M248.2,169.5H249.5M248.2,167.2H249.5M248.2,165.4H249.5M248.2,163.7H249.5M248.2,162.3H249.5M247.2,161.0H249.5" stroke="#222" stroke-width="0.7" fill="none"/>
<text x="246.9" y="162.9" font-size="5.3" text-anchor="end" fill="#000" stroke="#000" stroke-width="0.12">100</text>
<text x="246.9" y="191.0" font-size="5.3" text-anchor="end" fill="#000" stroke="#000" stroke-width="0.12">10</text>
<text x="246.9" y="219.1" font-size="5.3" text-anchor="end" fill="#000" stroke="#000" stroke-width="0.12">1</text>
<text x="249.5" y="254.4" font-size="5.3" text-anchor="middle" fill="#000" stroke="#000" stroke-width="0.12">0</text>
<text x="270.9" y="254.4" font-size="5.3" text-anchor="middle" fill="#000" stroke="#000" stroke-width="0.12">30</text>
<text x="292.2" y="254.4" font-size="5.3" text-anchor="middle" fill="#000" stroke="#000" stroke-width="0.12">60</text>
<text x="313.6" y="254.4" font-size="5.3" text-anchor="middle" fill="#000" stroke="#000" stroke-width="0.12">90</text>
<text x="335.0" y="254.4" font-size="5.3" text-anchor="middle" fill="#000" stroke="#000" stroke-width="0.12">120</text>
<text x="356.4" y="254.4" font-size="5.3" text-anchor="middle" fill="#000" stroke="#000" stroke-width="0.12">150</text>
<text x="377.8" y="254.4" font-size="5.3" text-anchor="middle" fill="#000" stroke="#000" stroke-width="0.12">180</text>
<text x="399.1" y="254.4" font-size="5.3" text-anchor="middle" fill="#000" stroke="#000" stroke-width="0.12">210</text>
<text x="420.5" y="254.4" font-size="5.3" text-anchor="middle" fill="#000" stroke="#000" stroke-width="0.12">240</text>
<path d="M270.5,246.5v2.4M292.5,246.5v2.4M313.5,246.5v2.4M335.5,246.5v2.4M356.5,246.5v2.4M377.5,246.5v2.4M399.5,246.5v2.4M420.5,246.5v2.4" stroke="#222" stroke-width="0.9" fill="none"/>
<g fill="#eaa244"><circle cx="257.0" cy="246.3" r="0.7"/><circle cx="258.5" cy="246.3" r="0.7"/><circle cx="260.0" cy="246.3" r="0.7"/><circle cx="261.5" cy="246.3" r="0.7"/><circle cx="263.0" cy="246.3" r="0.7"/><circle cx="290.5" cy="246.3" r="0.7"/></g>
<g fill="#eaa244"><circle cx="259.0" cy="188.0" r="0.75"/><circle cx="261.3" cy="188.0" r="0.75"/><circle cx="260.2" cy="190.5" r="0.75"/><circle cx="260.2" cy="193.0" r="0.75"/><circle cx="260.2" cy="196.5" r="0.75"/><circle cx="260.2" cy="203.5" r="0.75"/><circle cx="260.2" cy="211.5" r="0.75"/><circle cx="260.2" cy="224.0" r="0.75"/><circle cx="260.2" cy="228.0" r="0.75"/><circle cx="260.2" cy="236.5" r="0.75"/><circle cx="270.2" cy="173.5" r="0.75"/><circle cx="270.2" cy="177.0" r="0.75"/><circle cx="270.2" cy="192.0" r="0.75"/><circle cx="267.9" cy="203.5" r="0.75"/><circle cx="270.2" cy="203.5" r="0.75"/><circle cx="272.5" cy="203.5" r="0.75"/><circle cx="270.2" cy="205.5" r="0.75"/><circle cx="270.2" cy="207.5" r="0.75"/><circle cx="270.2" cy="219.0" r="0.75"/><circle cx="269.0" cy="221.0" r="0.75"/><circle cx="271.3" cy="221.0" r="0.75"/><circle cx="267.9" cy="222.5" r="0.75"/><circle cx="270.2" cy="222.5" r="0.75"/><circle cx="272.5" cy="222.5" r="0.75"/><circle cx="270.2" cy="225.5" r="0.75"/><circle cx="270.2" cy="228.5" r="0.75"/><circle cx="280.1" cy="184.0" r="0.75"/><circle cx="280.1" cy="188.5" r="0.75"/><circle cx="280.1" cy="196.5" r="0.75"/><circle cx="280.1" cy="203.5" r="0.75"/><circle cx="279.0" cy="207.5" r="0.75"/><circle cx="281.3" cy="207.5" r="0.75"/><circle cx="280.1" cy="209.5" r="0.75"/><circle cx="280.1" cy="217.5" r="0.75"/><circle cx="275.5" cy="221.0" r="0.75"/><circle cx="277.8" cy="221.0" r="0.75"/><circle cx="280.1" cy="221.0" r="0.75"/><circle cx="282.4" cy="221.0" r="0.75"/><circle cx="284.7" cy="221.0" r="0.75"/><circle cx="280.1" cy="223.5" r="0.75"/><circle cx="280.1" cy="226.0" r="0.75"/><circle cx="280.1" cy="229.0" r="0.75"/><circle cx="280.1" cy="232.0" r="0.75"/><circle cx="290.1" cy="183.0" r="0.75"/><circle cx="290.1" cy="187.0" r="0.75"/><circle cx="290.1" cy="189.0" r="0.75"/><circle cx="290.1" cy="198.0" r="0.75"/><circle cx="290.1" cy="206.0" r="0.75"/><circle cx="289.0" cy="208.0" r="0.75"/><circle cx="291.3" cy="208.0" r="0.75"/><circle cx="290.1" cy="210.5" r="0.75"/><circle cx="287.8" cy="225.5" r="0.75"/><circle cx="290.1" cy="225.5" r="0.75"/><circle cx="292.4" cy="225.5" r="0.75"/><circle cx="289.0" cy="228.0" r="0.75"/><circle cx="291.3" cy="228.0" r="0.75"/><circle cx="295.1" cy="178.5" r="0.75"/><circle cx="295.1" cy="185.5" r="0.75"/><circle cx="295.1" cy="188.0" r="0.75"/><circle cx="295.1" cy="191.5" r="0.75"/><circle cx="294.0" cy="197.5" r="0.75"/><circle cx="296.2" cy="197.5" r="0.75"/><circle cx="294.0" cy="207.0" r="0.75"/><circle cx="296.2" cy="207.0" r="0.75"/><circle cx="295.1" cy="209.0" r="0.75"/><circle cx="294.0" cy="211.0" r="0.75"/><circle cx="296.2" cy="211.0" r="0.75"/><circle cx="295.1" cy="213.0" r="0.75"/><circle cx="295.1" cy="215.0" r="0.75"/><circle cx="295.1" cy="221.0" r="0.75"/><circle cx="295.1" cy="225.5" r="0.75"/><circle cx="300.1" cy="178.0" r="0.75"/><circle cx="300.1" cy="184.0" r="0.75"/><circle cx="300.1" cy="188.5" r="0.75"/><circle cx="298.9" cy="193.0" r="0.75"/><circle cx="301.2" cy="193.0" r="0.75"/><circle cx="300.1" cy="195.5" r="0.75"/><circle cx="300.1" cy="197.5" r="0.75"/><circle cx="300.1" cy="200.0" r="0.75"/><circle cx="296.6" cy="206.5" r="0.75"/><circle cx="298.9" cy="206.5" r="0.75"/><circle cx="301.2" cy="206.5" r="0.75"/><circle cx="303.5" cy="206.5" r="0.75"/><circle cx="300.1" cy="222.0" r="0.75"/><circle cx="300.1" cy="229.5" r="0.75"/><circle cx="300.1" cy="237.5" r="0.75"/><circle cx="306.6" cy="187.5" r="0.75"/><circle cx="308.9" cy="187.5" r="0.75"/><circle cx="311.2" cy="187.5" r="0.75"/><circle cx="313.5" cy="187.5" r="0.75"/><circle cx="310.1" cy="190.0" r="0.75"/><circle cx="310.1" cy="193.0" r="0.75"/><circle cx="310.1" cy="196.5" r="0.75"/><circle cx="310.1" cy="199.0" r="0.75"/><circle cx="308.9" cy="207.5" r="0.75"/><circle cx="311.2" cy="207.5" r="0.75"/><circle cx="310.1" cy="209.5" r="0.75"/><circle cx="310.1" cy="217.0" r="0.75"/><circle cx="310.1" cy="219.0" r="0.75"/><circle cx="308.9" cy="221.0" r="0.75"/><circle cx="311.2" cy="221.0" r="0.75"/><circle cx="310.1" cy="223.0" r="0.75"/><circle cx="310.1" cy="225.5" r="0.75"/><circle cx="335.0" cy="186.0" r="0.75"/><circle cx="335.0" cy="188.5" r="0.75"/><circle cx="335.0" cy="191.0" r="0.75"/><circle cx="335.0" cy="196.5" r="0.75"/><circle cx="330.4" cy="201.5" r="0.75"/><circle cx="332.7" cy="201.5" r="0.75"/><circle cx="335.0" cy="201.5" r="0.75"/><circle cx="337.3" cy="201.5" r="0.75"/><circle cx="339.6" cy="201.5" r="0.75"/><circle cx="335.0" cy="203.5" r="0.75"/><circle cx="335.0" cy="217.0" r="0.75"/><circle cx="333.9" cy="219.5" r="0.75"/><circle cx="336.1" cy="219.5" r="0.75"/><circle cx="333.9" cy="221.5" r="0.75"/><circle cx="336.1" cy="221.5" r="0.75"/><circle cx="333.9" cy="223.0" r="0.75"/><circle cx="336.1" cy="223.0" r="0.75"/><circle cx="377.8" cy="205.5" r="0.75"/><circle cx="377.8" cy="211.5" r="0.75"/><circle cx="377.8" cy="218.0" r="0.75"/><circle cx="375.4" cy="221.0" r="0.75"/><circle cx="377.8" cy="221.0" r="0.75"/><circle cx="380.1" cy="221.0" r="0.75"/><circle cx="375.4" cy="223.0" r="0.75"/><circle cx="377.8" cy="223.0" r="0.75"/><circle cx="380.1" cy="223.0" r="0.75"/><circle cx="375.4" cy="225.5" r="0.75"/><circle cx="377.8" cy="225.5" r="0.75"/><circle cx="380.1" cy="225.5" r="0.75"/><circle cx="376.6" cy="236.5" r="0.75"/><circle cx="378.9" cy="236.5" r="0.75"/><circle cx="420.5" cy="207.5" r="0.75"/><circle cx="419.4" cy="223.0" r="0.75"/><circle cx="421.6" cy="223.0" r="0.75"/><circle cx="420.5" cy="225.5" r="0.75"/><circle cx="420.5" cy="228.0" r="0.75"/><circle cx="420.5" cy="236.5" r="0.75"/><circle cx="420.5" cy="242.0" r="0.75"/></g>
<polyline points="249.7,245.2 260.5,220.9 270.5,209.2 280.7,214.1 290.3,214.3 295.6,205.7 300.3,201.0 310.3,205.3 335.3,205.4 377.9,222.2 420.4,227.9" fill="none" stroke="#e99c36" stroke-width="1.2" stroke-linejoin="round" stroke-linecap="round"/>
<text x="225.3" y="206.2" font-size="7.4" text-anchor="middle" font-weight="bold" fill="#000" transform="rotate(-90 225.3 206.2)" stroke="#000" stroke-width="0.3">RVNA</text>
<text x="235.2" y="206.2" font-size="7.4" text-anchor="middle" font-weight="bold" fill="#000" transform="rotate(-90 235.2 206.2)" stroke="#000" stroke-width="0.3">(RFFIT; GMT IU/mL)</text>
<text x="337.5" y="265.3" font-size="7.5" text-anchor="middle" font-weight="bold" fill="#000" stroke="#000" stroke-width="0.15">Days</text>
<path d="M249.5,265.5V257.0" stroke="#000" stroke-width="0.85" fill="none"/><path d="M249.5,255.1l-1.6,2.9h3.2z" fill="#000"/>
<text x="250.2" y="271.1" font-size="5.3" text-anchor="middle" font-weight="bold" fill="#000" stroke="#000" stroke-width="0.08">Prime</text>
<path d="M290.7,265.5V257.0" stroke="#000" stroke-width="0.85" fill="none"/><path d="M290.7,255.1l-1.6,2.9h3.2z" fill="#000"/>
<text x="291.7" y="271.1" font-size="5.3" text-anchor="middle" font-weight="bold" fill="#000" stroke="#000" stroke-width="0.08">Boost</text>
<text x="231.3" y="306.6" font-size="8.78" text-anchor="middle" font-weight="bold" fill="#000" stroke="#000" stroke-width="0.12">Cohort 5: RabAvert</text>
<line x1="160.5" y1="382.9" x2="339.5" y2="382.9" stroke="#e4e4e4" stroke-opacity="1" stroke-width="1.6"/>
<path d="M171.7,348.9 L172.0,347.4 L182.5,358.8 L192.7,363.2 L203.2,368.0 L208.1,371.4 L213.3,375.8 L224.2,380.5 L250.4,380.3 L295.0,385.0 L339.5,390.7 L339.5,404.5 L171.7,404.5 Z" fill="#dcdcde"/>
<line x1="160.5" y1="314.9" x2="160.5" y2="406.9" stroke="#222" stroke-width="1"/>
<line x1="160.0" y1="404.5" x2="340.0" y2="404.5" stroke="#808080" stroke-width="1"/>
<path d="M158.2,403.5H160.5M159.2,394.6H160.5M159.2,389.5H160.5M159.2,385.8H160.5M159.2,382.9H160.5M159.2,380.6H160.5M159.2,378.6H160.5M159.2,376.9H160.5M159.2,375.4H160.5M158.2,374.1H160.5M159.2,365.3H160.5M159.2,360.1H160.5M159.2,356.4H160.5M159.2,353.6H160.5M159.2,351.2H160.5M159.2,349.3H160.5M159.2,347.6H160.5M159.2,346.1H160.5M158.2,344.7H160.5M159.2,335.9H160.5M159.2,330.7H160.5M159.2,327.0H160.5M159.2,324.2H160.5M159.2,321.9H160.5M159.2,319.9H160.5M159.2,318.2H160.5M159.2,316.7H160.5M158.2,315.4H160.5" stroke="#222" stroke-width="0.7" fill="none"/>
<text x="157.9" y="317.3" font-size="5.6" text-anchor="end" fill="#000" stroke="#000" stroke-width="0.12">100</text>
<text x="157.9" y="346.6" font-size="5.6" text-anchor="end" fill="#000" stroke="#000" stroke-width="0.12">10</text>
<text x="157.9" y="376.0" font-size="5.6" text-anchor="end" fill="#000" stroke="#000" stroke-width="0.12">1</text>
<text x="160.5" y="412.7" font-size="5.6" text-anchor="middle" fill="#000" stroke="#000" stroke-width="0.12">0</text>
<text x="182.9" y="412.7" font-size="5.6" text-anchor="middle" fill="#000" stroke="#000" stroke-width="0.12">30</text>
<text x="205.2" y="412.7" font-size="5.6" text-anchor="middle" fill="#000" stroke="#000" stroke-width="0.12">60</text>
<text x="227.6" y="412.7" font-size="5.6" text-anchor="middle" fill="#000" stroke="#000" stroke-width="0.12">90</text>
<text x="250.0" y="412.7" font-size="5.6" text-anchor="middle" fill="#000" stroke="#000" stroke-width="0.12">120</text>
<text x="272.4" y="412.7" font-size="5.6" text-anchor="middle" fill="#000" stroke="#000" stroke-width="0.12">150</text>
<text x="294.7" y="412.7" font-size="5.6" text-anchor="middle" fill="#000" stroke="#000" stroke-width="0.12">180</text>
<text x="317.1" y="412.7" font-size="5.6" text-anchor="middle" fill="#000" stroke="#000" stroke-width="0.12">210</text>
<text x="339.5" y="412.7" font-size="5.6" text-anchor="middle" fill="#000" stroke="#000" stroke-width="0.12">240</text>
<path d="M182.5,404.5v2.4M205.5,404.5v2.4M227.5,404.5v2.4M249.5,404.5v2.4M272.5,404.5v2.4M294.5,404.5v2.4M317.5,404.5v2.4M339.5,404.5v2.4" stroke="#222" stroke-width="0.9" fill="none"/>
<g fill="#b0b0b0"></g>
<g fill="#b0b0b0"><circle cx="171.7" cy="324.0" r="0.7"/><circle cx="169.7" cy="339.5" r="0.7"/><circle cx="171.7" cy="339.5" r="0.7"/><circle cx="173.7" cy="339.5" r="0.7"/><circle cx="171.7" cy="342.0" r="0.7"/><circle cx="171.7" cy="345.0" r="0.7"/><circle cx="171.7" cy="347.5" r="0.7"/><circle cx="181.1" cy="342.0" r="0.7"/><circle cx="183.1" cy="342.0" r="0.7"/><circle cx="182.1" cy="344.5" r="0.7"/><circle cx="182.1" cy="347.0" r="0.7"/><circle cx="182.1" cy="360.0" r="0.7"/><circle cx="182.1" cy="366.0" r="0.7"/><circle cx="182.1" cy="375.5" r="0.7"/><circle cx="182.1" cy="389.5" r="0.7"/><circle cx="192.6" cy="325.5" r="0.7"/><circle cx="192.6" cy="343.5" r="0.7"/><circle cx="192.6" cy="346.0" r="0.7"/><circle cx="192.6" cy="356.0" r="0.7"/><circle cx="192.6" cy="362.0" r="0.7"/><circle cx="192.6" cy="365.0" r="0.7"/><circle cx="192.6" cy="368.0" r="0.7"/><circle cx="192.6" cy="371.0" r="0.7"/><circle cx="192.6" cy="373.5" r="0.7"/><circle cx="192.6" cy="378.5" r="0.7"/><circle cx="202.0" cy="343.0" r="0.7"/><circle cx="204.0" cy="343.0" r="0.7"/><circle cx="203.0" cy="355.0" r="0.7"/><circle cx="203.0" cy="359.0" r="0.7"/><circle cx="203.0" cy="364.0" r="0.7"/><circle cx="203.0" cy="367.0" r="0.7"/><circle cx="203.0" cy="374.0" r="0.7"/><circle cx="203.0" cy="376.0" r="0.7"/><circle cx="203.0" cy="389.5" r="0.7"/><circle cx="208.2" cy="342.0" r="0.7"/><circle cx="208.2" cy="353.5" r="0.7"/><circle cx="207.2" cy="360.0" r="0.7"/><circle cx="209.2" cy="360.0" r="0.7"/><circle cx="208.2" cy="362.5" r="0.7"/><circle cx="206.2" cy="365.0" r="0.7"/><circle cx="208.2" cy="365.0" r="0.7"/><circle cx="210.2" cy="365.0" r="0.7"/><circle cx="207.2" cy="376.5" r="0.7"/><circle cx="209.2" cy="376.5" r="0.7"/><circle cx="206.2" cy="380.0" r="0.7"/><circle cx="208.2" cy="380.0" r="0.7"/><circle cx="210.2" cy="380.0" r="0.7"/><circle cx="208.2" cy="394.5" r="0.7"/><circle cx="213.5" cy="360.0" r="0.7"/><circle cx="211.5" cy="365.0" r="0.7"/><circle cx="213.5" cy="365.0" r="0.7"/><circle cx="215.5" cy="365.0" r="0.7"/><circle cx="213.5" cy="373.0" r="0.7"/><circle cx="213.5" cy="378.0" r="0.7"/><circle cx="213.5" cy="383.0" r="0.7"/><circle cx="213.5" cy="386.0" r="0.7"/><circle cx="213.5" cy="394.5" r="0.7"/><circle cx="213.5" cy="402.0" r="0.7"/><circle cx="223.9" cy="349.0" r="0.7"/><circle cx="222.9" cy="364.0" r="0.7"/><circle cx="224.9" cy="364.0" r="0.7"/><circle cx="222.9" cy="375.5" r="0.7"/><circle cx="224.9" cy="375.5" r="0.7"/><circle cx="222.9" cy="382.5" r="0.7"/><circle cx="224.9" cy="382.5" r="0.7"/><circle cx="223.9" cy="389.5" r="0.7"/><circle cx="223.9" cy="394.5" r="0.7"/><circle cx="250.0" cy="344.0" r="0.7"/><circle cx="250.0" cy="356.5" r="0.7"/><circle cx="250.0" cy="363.5" r="0.7"/><circle cx="249.0" cy="378.5" r="0.7"/><circle cx="251.0" cy="378.5" r="0.7"/><circle cx="249.0" cy="382.5" r="0.7"/><circle cx="251.0" cy="382.5" r="0.7"/><circle cx="249.0" cy="386.0" r="0.7"/><circle cx="251.0" cy="386.0" r="0.7"/><circle cx="294.7" cy="359.5" r="0.7"/><circle cx="294.7" cy="365.5" r="0.7"/><circle cx="294.7" cy="375.5" r="0.7"/><circle cx="294.7" cy="380.5" r="0.7"/><circle cx="292.7" cy="382.8" r="0.7"/><circle cx="294.7" cy="382.8" r="0.7"/><circle cx="296.7" cy="382.8" r="0.7"/><circle cx="294.7" cy="389.5" r="0.7"/><circle cx="294.7" cy="394.5" r="0.7"/><circle cx="339.5" cy="366.5" r="0.7"/><circle cx="338.5" cy="382.8" r="0.7"/><circle cx="340.5" cy="382.8" r="0.7"/><circle cx="339.5" cy="386.0" r="0.7"/><circle cx="339.5" cy="390.0" r="0.7"/></g>
<polyline points="160.6,403.0 172.0,347.4 182.5,358.8 192.7,363.2 203.2,368.0 208.1,371.4 213.3,375.8 224.2,380.5 250.4,380.3 295.0,385.0 339.5,390.7" fill="none" stroke="#b2b2b2" stroke-width="1.2" stroke-linejoin="round" stroke-linecap="round"/>
<text x="135.1" y="362.3" font-size="7.7" text-anchor="middle" font-weight="bold" fill="#000" transform="rotate(-90 135.1 362.3)" stroke="#000" stroke-width="0.3">RVNA</text>
<text x="145.5" y="362.3" font-size="7.7" text-anchor="middle" font-weight="bold" fill="#000" transform="rotate(-90 145.5 362.3)" stroke="#000" stroke-width="0.3">(RFFIT; GMT IU/mL)</text>
<text x="252.6" y="424.09999999999997" font-size="7.5" text-anchor="middle" font-weight="bold" fill="#000" stroke="#000" stroke-width="0.15">Days</text>
<path d="M160.5,423.5V415.0" stroke="#000" stroke-width="0.85" fill="none"/><path d="M160.5,413.1l-1.6,2.9h3.2z" fill="#000"/>
<path d="M165.5,423.5V415.0" stroke="#000" stroke-width="0.85" fill="none"/><path d="M165.5,413.1l-1.6,2.9h3.2z" fill="#000"/>
<text x="164" y="430.7" font-size="5.5" text-anchor="middle" font-weight="bold" fill="#000" stroke="#000" stroke-width="0.08">Prime Boost</text>
<rect x="502.3" y="12.3" width="19.8" height="10.8" fill="#2a1aea"/>
<text x="533" y="23.700000000000003" font-size="8.82" text-anchor="start" font-weight="bold" fill="#000" stroke="#000" stroke-width="0.1">RVNA ≥ 0.5 IU/mL</text>
<rect x="502.3" y="28" width="19.8" height="10.8" fill="#7676fa"/>
<text x="533" y="39.9" font-size="8.82" text-anchor="start" font-weight="bold" fill="#000" stroke="#000" stroke-width="0.1">0.5 &gt; RVNA ≥ 0.1 IU/mL</text>
<rect x="502.3" y="43.8" width="19.8" height="10.8" fill="#929292"/>
<text x="533" y="55.800000000000004" font-size="8.82" text-anchor="start" font-weight="bold" fill="#000" stroke="#000" stroke-width="0.1">RVNA &lt; 0.1 IU/mL</text>
<text x="477.6" y="76" font-size="10" text-anchor="middle" fill="#000" stroke="#000" stroke-width="0.15">GMT:</text>
<text x="516.1" y="76" font-size="10" text-anchor="middle" fill="#000" stroke="#000" stroke-width="0.15">0.15</text>
<text x="551.9" y="76" font-size="10" text-anchor="middle" fill="#000" stroke="#000" stroke-width="0.15">0.34</text>
<text x="587.8" y="76" font-size="10" text-anchor="middle" fill="#000" stroke="#000" stroke-width="0.15">0.27</text>
<text x="623.5" y="76" font-size="10" text-anchor="middle" fill="#000" stroke="#000" stroke-width="0.15">0.62</text>
<text x="659.4" y="76" font-size="10" text-anchor="middle" fill="#000" stroke="#000" stroke-width="0.15">0.41</text>
<rect x="505" y="92.6" width="23.7" height="123.8" fill="#929292"/>
<rect x="505" y="121.8" width="23.7" height="94.6" fill="#7676fa"/>
<rect x="505" y="201.5" width="23.7" height="14.9" fill="#2a1aea"/>
<rect x="540.8" y="92.6" width="23.7" height="123.8" fill="#7676fa"/>
<rect x="540.8" y="140.9" width="23.7" height="75.5" fill="#2a1aea"/>
<rect x="576.6" y="92.6" width="23.7" height="123.8" fill="#929292"/>
<rect x="576.6" y="113.6" width="23.7" height="102.8" fill="#7676fa"/>
<rect x="576.6" y="175.5" width="23.7" height="40.9" fill="#2a1aea"/>
<rect x="612.4" y="92.6" width="23.7" height="123.8" fill="#7676fa"/>
<rect x="612.4" y="107.5" width="23.7" height="108.9" fill="#2a1aea"/>
<rect x="648.2" y="92.6" width="23.7" height="123.8" fill="#7676fa"/>
<rect x="648.2" y="144.6" width="23.7" height="71.8" fill="#2a1aea"/>
<line x1="493.05" y1="92.1" x2="493.05" y2="217.20000000000002" stroke="#4a4a4a" stroke-width="1.4"/>
<line x1="489.8" y1="216.6" x2="683.2" y2="216.6" stroke="#2a2a2a" stroke-width="1.3"/>
<path d="M489.9,216.4H493.2M490.9,200.9H493.2M489.9,185.4H493.2M490.9,170.0H493.2M489.9,154.5H493.2M490.9,139.0H493.2M489.9,123.5H493.2M490.9,108.1H493.2M489.9,92.6H493.2M516.9,216.4v3M552.6,216.4v3M588.5,216.4v3M624.2,216.4v3M660.1,216.4v3" stroke="#222" stroke-width="0.9" fill="none"/>
<text x="487.5" y="219.1" font-size="7.5" text-anchor="end" fill="#000">0</text>
<text x="487.5" y="188.1" font-size="7.5" text-anchor="end" fill="#000">25</text>
<text x="487.5" y="157.2" font-size="7.5" text-anchor="end" fill="#000">50</text>
<text x="487.5" y="126.2" font-size="7.5" text-anchor="end" fill="#000">75</text>
<text x="487.5" y="95.3" font-size="7.5" text-anchor="end" fill="#000">100</text>
<text x="469.2" y="152.2" font-size="9.5" text-anchor="middle" font-weight="bold" fill="#000" transform="rotate(-90 469.2 152.2)" stroke="#000" stroke-width="0.15">Frequency of subjects (%)</text>
<text x="516.6999999999999" y="227.7" font-size="7.1" text-anchor="middle" font-weight="bold" fill="#000" stroke="#000" stroke-width="0.12">Cohort 1</text>
<text x="516.9" y="236" font-size="7.1" text-anchor="middle" fill="#111">RBI-4000</text>
<text x="516.9" y="244.6" font-size="7.1" text-anchor="middle" fill="#111">(0.1 mcg)</text>
<text x="552.4" y="227.7" font-size="7.1" text-anchor="middle" font-weight="bold" fill="#000" stroke="#000" stroke-width="0.12">Cohort 2</text>
<text x="552.6" y="236" font-size="7.1" text-anchor="middle" fill="#111">RBI-4000</text>
<text x="552.6" y="244.6" font-size="7.1" text-anchor="middle" fill="#111">(1 mcg)</text>
<text x="588.3" y="227.7" font-size="7.1" text-anchor="middle" font-weight="bold" fill="#000" stroke="#000" stroke-width="0.12">Cohort 3</text>
<text x="588.5" y="236" font-size="7.1" text-anchor="middle" fill="#111">RBI-4000</text>
<text x="588.5" y="244.6" font-size="7.1" text-anchor="middle" fill="#111">(10 mcg)</text>
<text x="624.0" y="227.7" font-size="7.1" text-anchor="middle" font-weight="bold" fill="#000" stroke="#000" stroke-width="0.12">Cohort 4</text>
<text x="624.2" y="236" font-size="7.1" text-anchor="middle" fill="#111">RBI-4000</text>
<text x="624.2" y="244.6" font-size="7.1" text-anchor="middle" fill="#111">(10 mcg)</text>
<text x="659.9" y="227.7" font-size="7.1" text-anchor="middle" font-weight="bold" fill="#000" stroke="#000" stroke-width="0.12">Cohort 5</text>
<text x="660.1" y="236" font-size="7.1" text-anchor="middle" fill="#111">RabAvert</text>
<text x="660.1" y="244.6" font-size="7.1" text-anchor="middle" fill="#111">(2.5 IU)</text>
<rect x="11.2" y="455.7" width="579.3" height="21.5" fill="#f2f2f2"/>
<rect x="11.2" y="455.7" width="137.60000000000002" height="95.40000000000003" fill="#f2f2f2"/>
<path d="M11.2,455.2V551.6M148.8,455.2V551.6M222.9,455.2V551.6M343.9,455.2V551.6M467.9,455.2V551.6M590.5,455.2V551.6M10.7,455.7H591.0M10.7,477.2H591.0M10.7,491.4H591.0M10.7,505.5H591.0M10.7,522.9H591.0M10.7,537.2H591.0M10.7,551.1H591.0" stroke="#000" stroke-width="1.15" fill="none"/>
<text x="16.1" y="468.9" font-size="6.9" text-anchor="start" font-weight="bold" fill="#000" stroke="#000" stroke-width="0.12">Cohort</text>
<text x="185.9" y="468.9" font-size="6.9" text-anchor="middle" font-weight="bold" fill="#000" stroke="#000" stroke-width="0.12">Peak Study Day</text>
<text x="283.4" y="465.1" font-size="6.9" text-anchor="middle" font-weight="bold" fill="#000" stroke="#000" stroke-width="0.12">Geomean (SD) at Peak</text>
<text x="283.4" y="472.8" font-size="6.9" text-anchor="middle" font-weight="bold" fill="#000" stroke="#000" stroke-width="0.12">(IU/mL)</text>
<text x="405.9" y="465.1" font-size="6.9" text-anchor="middle" font-weight="bold" fill="#000" stroke="#000" stroke-width="0.12">Study Day for Start of Stable</text>
<text x="405.9" y="472.8" font-size="6.9" text-anchor="middle" font-weight="bold" fill="#000" stroke="#000" stroke-width="0.12">Decay</text>
<text x="529.2" y="468.9" font-size="6.9" text-anchor="middle" font-weight="bold" fill="#000" stroke="#000" stroke-width="0.12">Days from Peak to Stable Decay</text>
<text x="16.1" y="486.8" font-size="6.9" text-anchor="start" fill="#000" stroke="#000" stroke-width="0.1">Cohort 1: 0.1 mcg RBI-4000</text>
<text x="185.9" y="486.8" font-size="6.9" text-anchor="middle" fill="#000" stroke="#000" stroke-width="0.1">85</text>
<text x="283.4" y="486.8" font-size="6.9" text-anchor="middle" fill="#000" stroke="#000" stroke-width="0.1">0.62 (3.023)</text>
<text x="405.9" y="486.8" font-size="6.9" text-anchor="middle" fill="#000" stroke="#000" stroke-width="0.1">120</text>
<text x="529.2" y="486.8" font-size="6.9" text-anchor="middle" fill="#000" stroke="#000" stroke-width="0.1">35</text>
<text x="16.1" y="500.9" font-size="6.9" text-anchor="start" fill="#000" stroke="#000" stroke-width="0.1">Cohort 2: 1.0 mcg RBI-4000</text>
<text x="185.9" y="500.9" font-size="6.9" text-anchor="middle" fill="#000" stroke="#000" stroke-width="0.1">71</text>
<text x="283.4" y="500.9" font-size="6.9" text-anchor="middle" fill="#000" stroke="#000" stroke-width="0.1">2.18 (2.033)</text>
<text x="405.9" y="500.9" font-size="6.9" text-anchor="middle" fill="#000" stroke="#000" stroke-width="0.1">120</text>
<text x="529.2" y="500.9" font-size="6.9" text-anchor="middle" fill="#000" stroke="#000" stroke-width="0.1">59</text>
<text x="16.1" y="516.7" font-size="6.9" text-anchor="start" fill="#000" stroke="#000" stroke-width="0.1">Cohort 3: 10 mcg RBI-4000 (prime only)</text>
<text x="185.9" y="516.7" font-size="6.9" text-anchor="middle" fill="#000" stroke="#000" stroke-width="0.1">29</text>
<text x="283.4" y="516.7" font-size="6.9" text-anchor="middle" fill="#000" stroke="#000" stroke-width="0.1">1.02 (3.211)</text>
<text x="405.9" y="516.7" font-size="6.9" text-anchor="middle" fill="#000" stroke="#000" stroke-width="0.1">120</text>
<text x="529.2" y="516.7" font-size="6.9" text-anchor="middle" fill="#000" stroke="#000" stroke-width="0.1">91</text>
<text x="16.1" y="532.5" font-size="6.9" text-anchor="start" fill="#000" stroke="#000" stroke-width="0.1">Cohort 4: 10 mcg RBI-4000</text>
<text x="185.9" y="532.5" font-size="6.9" text-anchor="middle" fill="#000" stroke="#000" stroke-width="0.1">71</text>
<text x="283.4" y="532.5" font-size="6.9" text-anchor="middle" fill="#000" stroke="#000" stroke-width="0.1">3.70 (1.511)</text>
<text x="405.9" y="532.5" font-size="6.9" text-anchor="middle" fill="#000" stroke="#000" stroke-width="0.1">180</text>
<text x="529.2" y="532.5" font-size="6.9" text-anchor="middle" fill="#000" stroke="#000" stroke-width="0.1">109</text>
<text x="16.1" y="546.7" font-size="6.9" text-anchor="start" fill="#000" stroke="#000" stroke-width="0.1">Cohort 5: 2.5 IU RabAvert</text>
<text x="185.9" y="546.7" font-size="6.9" text-anchor="middle" fill="#000" stroke="#000" stroke-width="0.1">15</text>
<text x="283.4" y="546.7" font-size="6.9" text-anchor="middle" fill="#000" stroke="#000" stroke-width="0.1">7.91 (1.311)</text>
<text x="405.9" y="546.7" font-size="6.9" text-anchor="middle" fill="#000" stroke="#000" stroke-width="0.1">85</text>
<text x="529.2" y="546.7" font-size="6.9" text-anchor="middle" fill="#000" stroke="#000" stroke-width="0.1">70</text>
</svg></body></html>
